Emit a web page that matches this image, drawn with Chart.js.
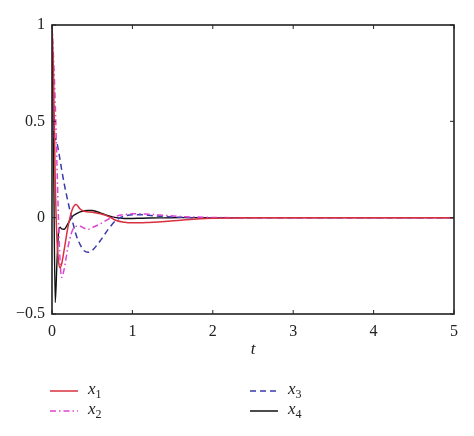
<!DOCTYPE html>
<html>
<head>
<meta charset="utf-8">
<script src="https://cdn.jsdelivr.net/npm/chart.js@4.4.0/dist/chart.umd.min.js"></script>
<style>
    html, body { margin: 0; padding: 0; background: #fff; }
    #wrap { position: relative; width: 474px; height: 436px; }
    #legend { position: absolute; left: 0; top: 0; width: 474px; height: 436px; pointer-events: none;
              font-family: "Liberation Serif", "DejaVu Serif", serif; font-size: 17px; color: #222; }
    .item { position: absolute; display: flex; align-items: center; }
    .item svg { margin-right: 10px; }
    .item i sub { font-style: normal; font-size: 12px; }
</style>
</head>
<body>
<div id="wrap">
    <canvas id="chart" width="474" height="436"></canvas>
    <div id="legend"></div>
</div>
<script>
// Time samples
const times = [0, 0.02, 0.04, 0.06, 0.08, 0.1, 0.12, 0.15, 0.2, 0.25, 0.3, 0.35, 0.4, 0.45, 0.5,
               0.6, 0.7, 0.8, 0.9, 1.0, 1.1, 1.2, 1.4, 1.6, 1.8, 2.0, 2.5, 3, 4, 5];

const x1Values = [1, 0.72, 0.2, -0.1, -0.22, -0.26, -0.24, -0.17, -0.045, 0.04, 0.068, 0.045, 0.033, 0.03, 0.028,
                  0.02, 0.007, -0.015, -0.024, -0.027, -0.027, -0.025, -0.02, -0.013, -0.007, -0.003, 0, 0, 0, 0];
const x2Values = [1, 0.82, 0.6, 0.3, 0.0, -0.22, -0.31, -0.27, -0.15, -0.07, -0.045, -0.045, -0.055, -0.06, -0.052,
                  -0.032, -0.008, 0.008, 0.016, 0.02, 0.02, 0.018, 0.012, 0.006, 0.003, 0.001, 0, 0, 0, 0];
const x3Values = [1, 0.44, 0.41, 0.39, 0.35, 0.3, 0.25, 0.18, 0.08, -0.01, -0.09, -0.14, -0.172, -0.18, -0.17,
                  -0.12, -0.06, -0.012, 0.008, 0.015, 0.015, 0.012, 0.006, 0.002, 0, 0, 0, 0, 0, 0];
const x4Values = [1, 0.3, -0.44, -0.25, -0.08, -0.05, -0.058, -0.06, -0.03, 0.005, 0.02, 0.03, 0.036, 0.038, 0.037,
                  0.025, 0.01, 0, -0.004, -0.004, -0.003, -0.002, -0.001, 0, 0, 0, 0, 0, 0, 0];

const xTicks = [0, 1, 2, 3, 4, 5];
const yTicks = [-0.5, 0, 0.5, 1];
const seriesNames = ['1', '2', '3', '4'];

const serif = '"Liberation Serif", "DejaVu Serif", serif';

function toPoints(vals) {
    return times.map((t, i) => ({ x: t, y: vals[i] }));
}

function fmt(v) {
    return v < 0 ? '\u2212' + Math.abs(v) : String(v);
}

// Box frame + inward tick marks
const framePlugin = {
    id: 'frame',
    afterDatasetsDraw(chart) {
        const { ctx, chartArea: a, scales } = chart;
        ctx.save();
        ctx.strokeStyle = '#222';
        ctx.lineWidth = 1.6;
        ctx.strokeRect(a.left, a.top, a.right - a.left, a.bottom - a.top);
        ctx.lineWidth = 1;
        const len = 4;
        xTicks.forEach(v => {
            const px = scales.x.getPixelForValue(v);
            ctx.beginPath();
            ctx.moveTo(px, a.bottom); ctx.lineTo(px, a.bottom - len);
            ctx.moveTo(px, a.top); ctx.lineTo(px, a.top + len);
            ctx.stroke();
        });
        yTicks.forEach(v => {
            const py = scales.y.getPixelForValue(v);
            ctx.beginPath();
            ctx.moveTo(a.left, py); ctx.lineTo(a.left + len, py);
            ctx.moveTo(a.right, py); ctx.lineTo(a.right - len, py);
            ctx.stroke();
        });
        ctx.restore();
    }
};

const ctx = document.getElementById('chart').getContext('2d');
const chart = new Chart(ctx, {
    type: 'line',
    data: {
        datasets: [
            { label: 'x1', data: toPoints(x1Values), borderColor: '#d8303f', borderWidth: 1.5 },
            { label: 'x2', data: toPoints(x2Values), borderColor: '#dd44d4', borderWidth: 1.5, borderDash: [6, 3, 1.5, 3] },
            { label: 'x3', data: toPoints(x3Values), borderColor: '#3a3aaa', borderWidth: 1.5, borderDash: [6, 4] },
            { label: 'x4', data: toPoints(x4Values), borderColor: '#111111', borderWidth: 1.4 }
        ]
    },
    options: {
        responsive: false,
        animation: false,
        elements: {
            point: { radius: 0 },
            line: { cubicInterpolationMode: 'monotone', fill: false }
        },
        layout: { padding: { left: 0, top: 25, right: 20, bottom: 72 } },
        plugins: {
            legend: { display: false },
            tooltip: { enabled: false }
        },
        scales: {
            x: {
                type: 'linear',
                min: 0,
                max: 5,
                afterBuildTicks: s => { s.ticks = xTicks.map(v => ({ value: v })); },
                afterFit: s => { s.height = 50; },
                grid: { display: false, drawTicks: false },
                border: { display: false },
                ticks: { color: '#222', padding: 8, font: { family: serif, size: 16 }, callback: v => fmt(v) },
                title: { display: true, text: 't', color: '#222', font: { family: serif, size: 17, style: 'italic' } }
            },
            y: {
                min: -0.5,
                max: 1,
                afterBuildTicks: s => { s.ticks = yTicks.map(v => ({ value: v })); },
                afterFit: s => { s.width = 52; },
                grid: { display: false, drawTicks: false },
                border: { display: false },
                ticks: { color: '#222', padding: 7, font: { family: serif, size: 16 }, callback: v => fmt(v) }
            }
        }
    },
    plugins: [framePlugin]
});

// HTML legend, two columns
const legendPos = [
    { left: 50, top: 379 },
    { left: 50, top: 399 },
    { left: 250, top: 379 },
    { left: 250, top: 399 }
];
const legend = document.getElementById('legend');
chart.data.datasets.forEach((ds, i) => {
    const item = document.createElement('div');
    item.className = 'item';
    item.style.left = legendPos[i].left + 'px';
    item.style.top = legendPos[i].top + 'px';
    const dash = ds.borderDash ? ds.borderDash.join(' ') : 'none';
    item.innerHTML =
        '<svg width="28" height="20"><line x1="0" y1="10" x2="28" y2="10" stroke="' + ds.borderColor +
        '" stroke-width="1.5" stroke-dasharray="' + dash + '"/></svg>' +
        '<i>x<sub>' + seriesNames[i] + '</sub></i>';
    legend.appendChild(item);
});
</script>
</body>
</html>
